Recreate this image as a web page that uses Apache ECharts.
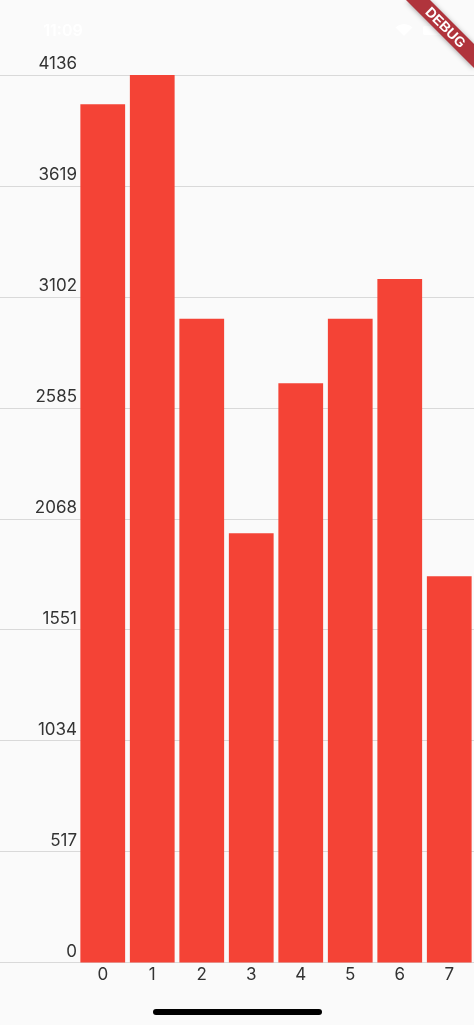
<!DOCTYPE html>
<html><head><meta charset="utf-8">
<style>html,body{margin:0;padding:0;background:#fafafa}#c{width:474px;height:1025px}</style>
<script src="https://cdn.jsdelivr.net/npm/echarts@6/dist/echarts.min.js"></script>
</head><body><div id="c"></div>
<script>
const categories = ['0','1','2','3','4','5','6','7'];
const values = [4000,4136,3000,2000,2700,3000,3185,1800];
const axisMax = 4136;
const axisStep = 517;
const grid = {top:75,bottom:62.5};
const chart = echarts.init(document.getElementById('c'),null,{renderer:'canvas'});
const font = 'Inter, "Open Sans", sans-serif';
chart.setOption({
  animation:false,
  backgroundColor:'#fafafa',
  grid:[
    {left:0,right:0,top:grid.top,bottom:grid.bottom},
    {left:78,right:0,top:grid.top,bottom:grid.bottom}
  ],
  xAxis:[
    {gridIndex:0,type:'category',data:categories,axisLine:{show:false},axisTick:{show:false},axisLabel:{show:false}},
    {gridIndex:1,type:'category',data:categories,
     axisLine:{show:false},axisTick:{show:false},
     axisLabel:{color:'#333',fontSize:17,fontFamily:font,margin:4}}
  ],
  yAxis:[
    {gridIndex:0,type:'value',min:0,max:axisMax,interval:axisStep,
     axisLine:{show:false},axisTick:{show:false},axisLabel:{show:false},
     splitLine:{show:true,lineStyle:{color:'#d9d9d9',width:1}}},
    {gridIndex:1,type:'value',min:0,max:axisMax,interval:axisStep,
     axisLine:{show:false},axisTick:{show:false},splitLine:{show:false},
     axisLabel:{color:'#333',fontSize:17,fontFamily:font,margin:1,verticalAlign:'bottom',lineHeight:22,
       showMinLabel:true,showMaxLabel:true,verticalAlignMinLabel:'bottom',verticalAlignMaxLabel:'bottom',
       formatter:function(v){return String(v);}}}
  ],
  series:[{type:'bar',xAxisIndex:1,yAxisIndex:1,data:values,barCategoryGap:'9.6%',
    itemStyle:{color:'#f44336'}}],
  graphic:[
    {type:'rect',z:49,shape:{x:423,y:26,width:23,height:9,r:2},style:{fill:'#fff'}},
    {type:'polygon',z:50,shape:{points:[[406,0],[430,0],[474,44],[474,68]]},
     style:{fill:'#b0343c',shadowBlur:5,shadowColor:'rgba(0,0,0,0.35)',shadowOffsetY:1}},
    {type:'text',z:52,x:445,y:28,rotation:-Math.PI/4,
     style:{text:'DEBUG',fill:'#fff',font:'bold 14px "Liberation Sans", sans-serif',align:'center',verticalAlign:'middle'}},
    {type:'text',z:52,x:63,y:31,
     style:{text:'11:09',fill:'#fff',font:'600 16px Inter, sans-serif',align:'center',verticalAlign:'middle'}},
    {type:'sector',z:49,shape:{cx:404,cy:36,r0:0,r:12,startAngle:-Math.PI*3/4,endAngle:-Math.PI/4},style:{fill:'#fff',opacity:0.9}},
    {type:'rect',z:51,shape:{x:153,y:1009,width:169,height:6,r:3},style:{fill:'#000'}}
  ]
});
</script></body></html>
